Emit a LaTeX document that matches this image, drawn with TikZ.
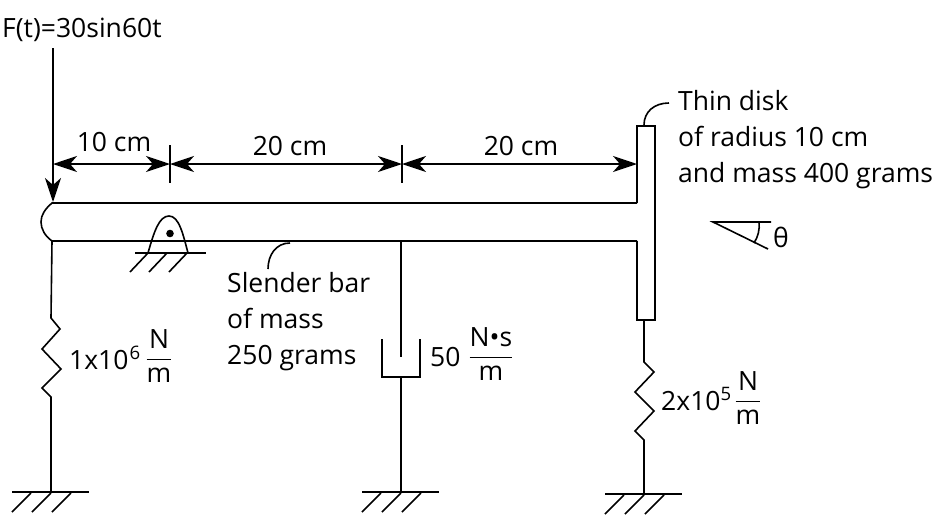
\documentclass[tikz,border=0pt]{standalone}
\usepackage{amsmath}
\usepackage{fontspec}
\setmainfont{Open Sans}
\usetikzlibrary{
    arrows.meta,
    calc,
    positioning
}
\tikzset{
    line/.style={line width=1.6pt},
    dimline/.style={line width=1.4pt, {Stealth[length=24pt, width=16pt, inset=7pt]}-{Stealth[length=24pt, width=16pt, inset=7pt]}},
    label/.style={inner sep=0pt, font=\fontsize{26.5}{36}\selectfont, align=left},
    ground/.pic={
        \draw[line] (-39,0) -- (38,0);
        \foreach \i in {-20,0,20}
            \draw[line] (\i,1) -- ++(-19,19);
    }
}
\begin{document}
\begin{tikzpicture}[x=1pt, y=-1pt]
    \useasboundingbox (0,0) rectangle (950,517);
    \coordinate (tail) at (53,48);
    \coordinate (tip) at (53,202);
    \coordinate (bartl) at (52,203);
    \coordinate (barbl) at (52,241);
    \coordinate (bartr) at (637,203);
    \coordinate (barbr) at (637,241);
    \coordinate (a) at (53,164);
    \coordinate (b) at (170,164);
    \coordinate (c) at (402,164);
    \coordinate (d) at (637,164);
    % bar and disk
    \draw[line] (bartr) -- (bartl) .. controls (45,209) and (41,215) .. (41,222) .. controls (41,229) and (45,236) .. (barbl) -- (barbr);
    \draw[line] (bartr) -- (637,126) -- (655,126) -- (655,320) -- (637,320) -- (barbr);
    % force
    \draw[line, -{Stealth[length=24pt, width=16pt, inset=7pt]}] (tail) -- (tip);
    % dimensions
    \draw[dimline] (a) -- (b);
    \draw[dimline] (b) -- (c);
    \draw[dimline] (c) -- (d);
    \draw[line] (170,145) -- (170,183);
    \draw[line] (402,145) -- (402,183);
    % pivot
    \draw[line] (148,253) .. controls (154,232) and (159,216) .. (169,216) .. controls (179,216) and (183,234) .. (188,253);
    \fill (170,233.5) circle (3.8);
    \draw[line] (135,253) -- (206,253);
    \foreach \i in {148,167,187}
        \draw[line] (\i,253) -- ++(-18,19);
    % left spring
    \draw[line] (barbl) -- (51,318) -- (60,329) -- (42,349) -- (61,369) -- (42,388) -- (51,397) -- (51,492);
    \pic at (51,492) {ground};
    % damper
    \draw[line] (401,241) -- (401,357);
    \draw[line] (382,339) -- (382,377) -- (420,377) -- (420,339);
    \draw[line] (401,377) -- (401,492);
    \pic at (401,492) {ground};
    % right spring
    \draw[line] (644,320) -- (644,362) -- (654,372) -- (635,392) -- (654,411) -- (635,431) -- (644,440) -- (644,494);
    \pic at (644,494) {ground};
    % leaders
    \draw[line] (268,269) .. controls (268,255) and (276,243) .. (290,243);
    \draw[line] (644,125) .. controls (644,112) and (654,103) .. (669,103);
    % angle
    \draw[line] (771,222) -- (713,222) -- (768,249);
    \draw[line] (759,222) .. controls (760,229) and (758,237) .. (754,243);
    % texts
    \node[label, anchor=west] (force) at (2,30) {F(t)=30sin60t};
    \node[label, anchor=center] (ten) at (114,142) {10 cm};
    \node[label, anchor=center] (twentya) at (290,146) {20 cm};
    \node[label, anchor=center] (twentyb) at (521,146) {20 cm};
    \node[label, anchor=north west] (disk) at (678,90) {Thin disk\\of radius 10 cm\\and mass 400 grams};
    \node[label, anchor=north west] (slender) at (227,272) {Slender bar\\of mass\\250 grams};
    \node[label, anchor=base west] (theta) at (773,247) {θ};
    \node[label, anchor=base west] (kone) at (69,369) {1x10\kern1pt\textsuperscript{6}};
    \node[label, anchor=center] (konef) at (159,356) {$\dfrac{\textrm{N}}{\textrm{m}}$};
    \node[label, anchor=base west] (cval) at (430,366) {50};
    \node[label, anchor=center] (cvalf) at (491,354) {$\dfrac{\textrm{N\textbullet s}}{\textrm{m}}$};
    \node[label, anchor=base west] (ktwo) at (661,410) {2x10\textsuperscript{5}};
    \node[label, anchor=center] (ktwof) at (748,398) {$\dfrac{\textrm{N}}{\textrm{m}}$};
\end{tikzpicture}
\end{document}
